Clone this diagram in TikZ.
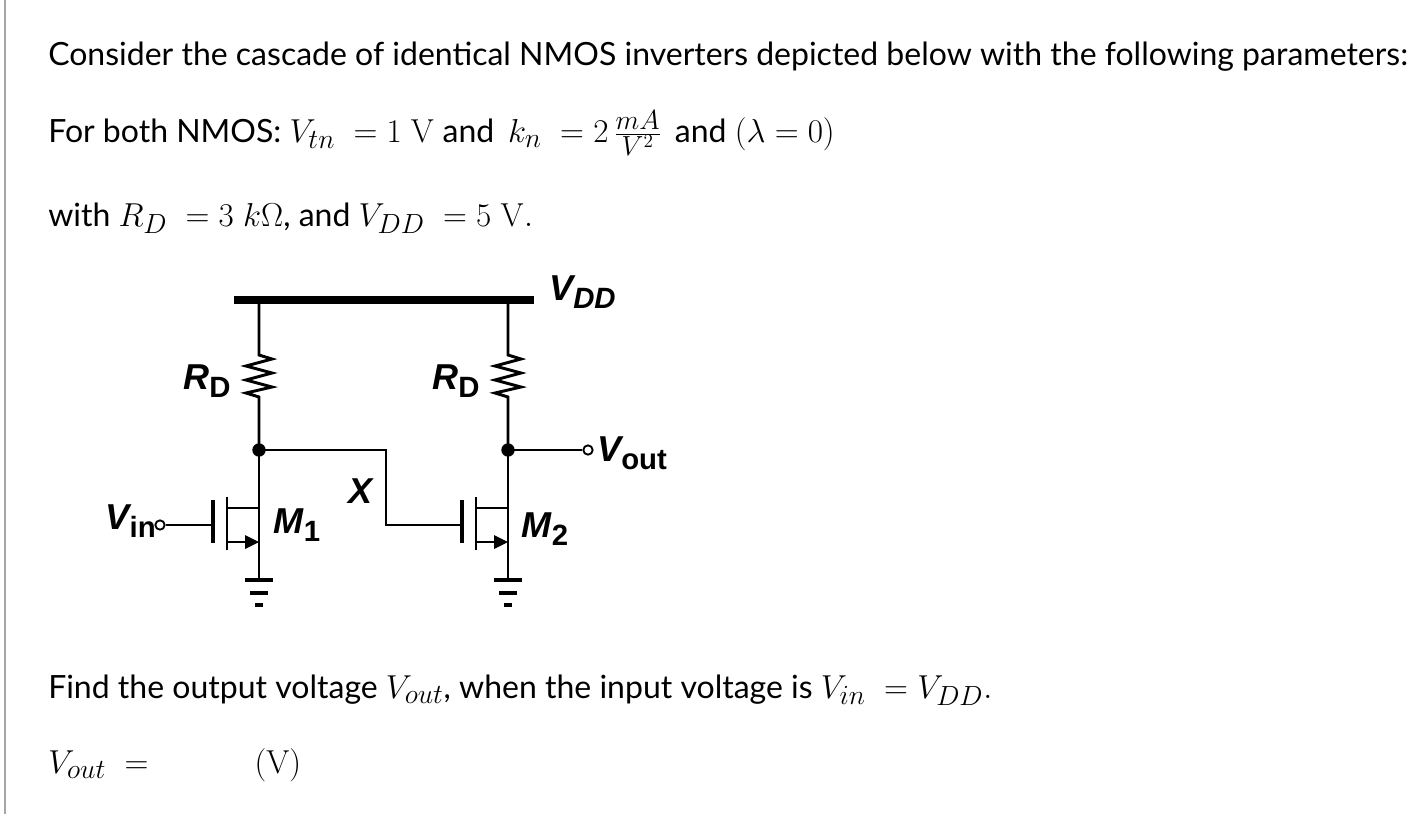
\documentclass[tikz,border=0pt]{standalone}
\usepackage[no-math]{fontspec}
\setmainfont{Lato}
\newfontfamily\arial{Liberation Sans}
\usetikzlibrary{arrows.meta}
\newcommand{\mm}[1]{{\fontsize{29.5}{32}\selectfont$#1$}}
\newcommand{\lsub}[1]{\raisebox{-0.4ex}{\fontsize{22}{24}\selectfont\arial\bfseries\upshape #1}}
\begin{document}
\begin{tikzpicture}[x=0.75pt,y=-0.75pt,
  w/.style={line width=2.2pt},
  lab/.style={font=\arial\bfseries\fontsize{27}{29}\selectfont\itshape,inner sep=0pt},
  txt/.style={anchor=west,font=\fontsize{24}{28}\selectfont,inner sep=0pt},
  dot/.style={circle,fill,inner sep=0pt,minimum size=10pt},
  term/.style={circle,draw,line width=1.4pt,fill=white,inner sep=0pt,minimum size=7pt}]
\useasboundingbox (0,0) rectangle (1428,814);
\draw[gray!70,line width=1pt] (5,0) -- (5,814);
% texts
\node[txt] (t1) at (48,57) {Consider the cascade of identical NMOS inverters depicted below with the following parameters:};
\node[txt] (t2) at (48,133) {For both NMOS: \mm{V_{tn}\;=1\;\mathrm{V}} and \mm{\,k_n\;=2\,\frac{mA}{V^2}\,} and \mm{(\lambda=0)}};
\node[txt] (t3) at (48,218) {with \mm{R_D\;=3\;k\Omega}, and \mm{V_{DD}\;=5\;\mathrm{V}.}};
\node[txt] (t4) at (48,690) {Find the output voltage \mm{V_{out}}, when the input voltage is \mm{V_{in}\;=V_{DD}.}};
\node[txt] (t5) at (48,765) {\mm{V_{out}\;=\qquad\;\;(\mathrm{V})}};
% supply
\draw[line width=5.5pt] (234,300) -- (534,300);
\node[lab,anchor=west] (vdd) at (549,292) {V\lsub{\itshape DD}};
\foreach \x/\n in {259/L,508/R}{
  \coordinate (top\n) at (\x,300);
  \coordinate (node\n) at (\x,450);
  \draw[w] (top\n) -- (\x,355) -- (\x+13,359) -- (\x-13,366) -- (\x+13,373) -- (\x-13,380) -- (\x+13,387) -- (\x-13,393) -- (\x,397) -- (node\n);
  \draw[w] (node\n) -- (\x,508) -- (\x-32,508);
  \draw[w] (\x-32,497) -- (\x-32,550);
  \draw[line width=3.5pt] (\x-46,500) -- (\x-46,543);
  \draw[w] (\x-32,542) -- (\x-8,542);
  \fill (\x,542) -- (\x-14,535) -- (\x-14,549) -- cycle;
  \draw[w] (\x,508) -- (\x,580);
  \draw[line width=3.5pt] (\x-14,580) -- (\x+14,580);
  \draw[line width=3.5pt] (\x-9,593) -- (\x+9,593);
  \draw[line width=3.5pt] (\x-4,605) -- (\x+4,605);
  \node[dot] at (node\n) {};
}
\node[lab] (rd1) at (207,381) {R\lsub{D}};
\node[lab] (rd2) at (456,381) {R\lsub{D}};
\node[lab] (m1) at (297,525) {M\lsub{1}};
\node[lab] (m2) at (545,529) {M\lsub{2}};
\node[lab] (x) at (361,491) {X};
% wires
\node[term] (vo) at (588,450) {};
\draw[w] (nodeR) -- (vo);
\node[lab,anchor=west] (vout) at (597,453) {V\lsub{out}};
\node[term] (vi) at (160,525) {};
\draw[w] (vi) -- (213,525);
\node[lab,anchor=east] (vin) at (156,521) {V\lsub{in}};
\draw[w] (nodeL) -- (386,450) -- (386,525) -- (462,525);
\end{tikzpicture}
\end{document}
